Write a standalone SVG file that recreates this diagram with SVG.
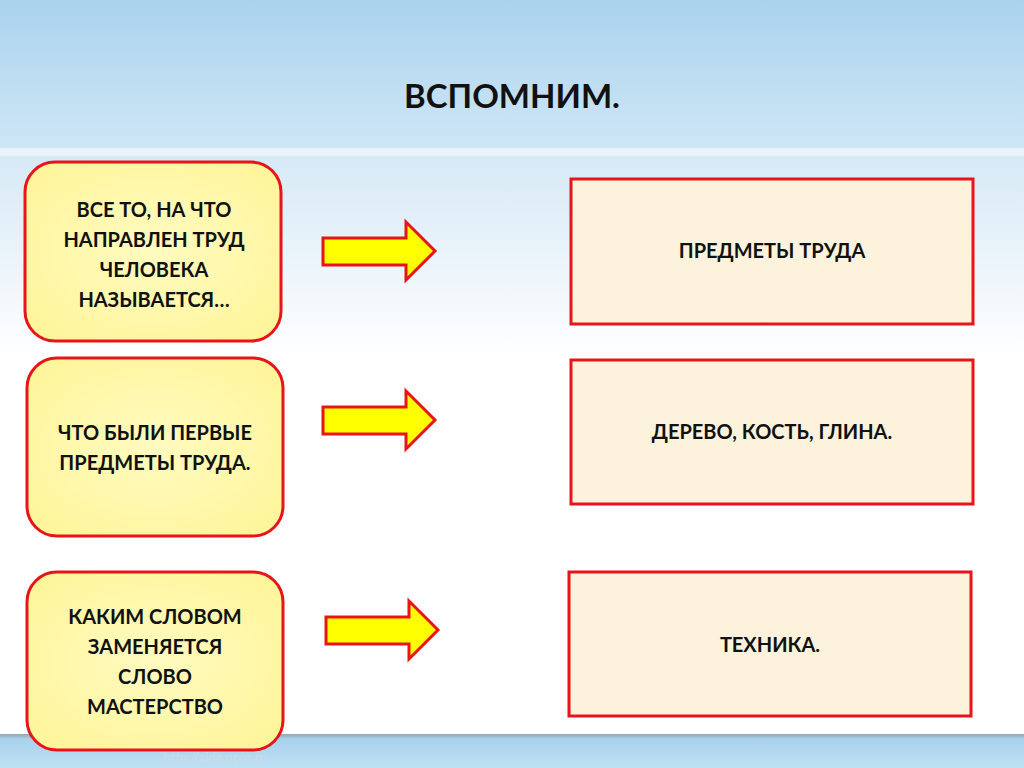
<svg xmlns="http://www.w3.org/2000/svg" width="1024" height="768" viewBox="0 0 1024 768">
<defs>
<linearGradient id="sky" x1="0" y1="0" x2="0" y2="1"><stop offset="0" stop-color="#a9d3ee"/><stop offset="1" stop-color="#cfe6f5"/></linearGradient>
<linearGradient id="mid" x1="0" y1="0" x2="0" y2="1"><stop offset="0" stop-color="#d6e9f6"/><stop offset="0.35" stop-color="#ffffff"/><stop offset="1" stop-color="#ffffff"/></linearGradient>
<linearGradient id="bot" x1="0" y1="0" x2="0" y2="1"><stop offset="0" stop-color="#8fa7b5"/><stop offset="0.15" stop-color="#a9d2ec"/><stop offset="1" stop-color="#bfe0f3"/></linearGradient>
<radialGradient id="yel" cx="0.5" cy="0.5" r="0.7"><stop offset="0" stop-color="#fffbc0"/><stop offset="1" stop-color="#fff497"/></radialGradient>
</defs>
<style>
.q{fill:url(#yel);stroke:#e8141a;stroke-width:3}
.a{fill:#fdf3dc;stroke:#e8141a;stroke-width:3}
.ar{fill:#ffff00;stroke:#e8141a;stroke-width:3;stroke-linejoin:miter}
text{font-family:Lato,"Liberation Sans",sans-serif;font-weight:bold;font-size:20px;fill:#111;text-anchor:middle}
</style>
<rect width="1024" height="768" fill="#fff"/>
<rect width="1024" height="148" fill="url(#sky)"/>
<rect y="148" width="1024" height="8" fill="#e9f3fa"/>
<rect y="156" width="1024" height="580" fill="url(#mid)"/>
<rect y="734" width="1024" height="34" fill="url(#bot)"/>
<text x="512" y="108" style="font-size:33px">ВСПОМНИМ.</text>
<text x="215" y="762" style="font-size:13px;fill:#c9dceb;font-weight:normal">http://aida.ucoz.ru</text>
<g id="q1"><rect class="q" x="25" y="162" width="256" height="179" rx="30"/>
<text x="154" y="217">ВСЕ ТО, НА ЧТО</text><text x="154" y="247">НАПРАВЛЕН ТРУД</text><text x="154" y="277">ЧЕЛОВЕКА</text><text x="154" y="307">НАЗЫВАЕТСЯ…</text></g>
<g id="q2"><rect class="q" x="27" y="358" width="256" height="178" rx="30"/>
<text x="155" y="440">ЧТО БЫЛИ ПЕРВЫЕ</text><text x="155" y="470">ПРЕДМЕТЫ ТРУДА.</text></g>
<g id="q3"><rect class="q" x="27" y="572" width="256" height="178" rx="30"/>
<text x="155" y="624">КАКИМ СЛОВОМ</text><text x="155" y="654">ЗАМЕНЯЕТСЯ</text><text x="155" y="684">СЛОВО</text><text x="155" y="714">МАСТЕРСТВО</text></g>
<g id="a1"><rect class="a" x="571" y="179" width="402" height="145"/><text x="772" y="258">ПРЕДМЕТЫ ТРУДА</text></g>
<g id="a2"><rect class="a" x="571" y="360" width="402" height="144"/><text x="772" y="439">ДЕРЕВО, КОСТЬ, ГЛИНА.</text></g>
<g id="a3"><rect class="a" x="569" y="572" width="402" height="144"/><text x="770" y="652">ТЕХНИКА.</text></g>
<g id="connectors">
<polygon class="ar" points="323,238 406,238 406,222 435,251 406,280 406,265 323,265"/>
<polygon class="ar" points="323,407 406,407 406,391 435,420 406,449 406,434 323,434"/>
<polygon class="ar" points="326,617 409,617 409,601 438,630 409,659 409,644 326,644"/>
</g>
</svg>
